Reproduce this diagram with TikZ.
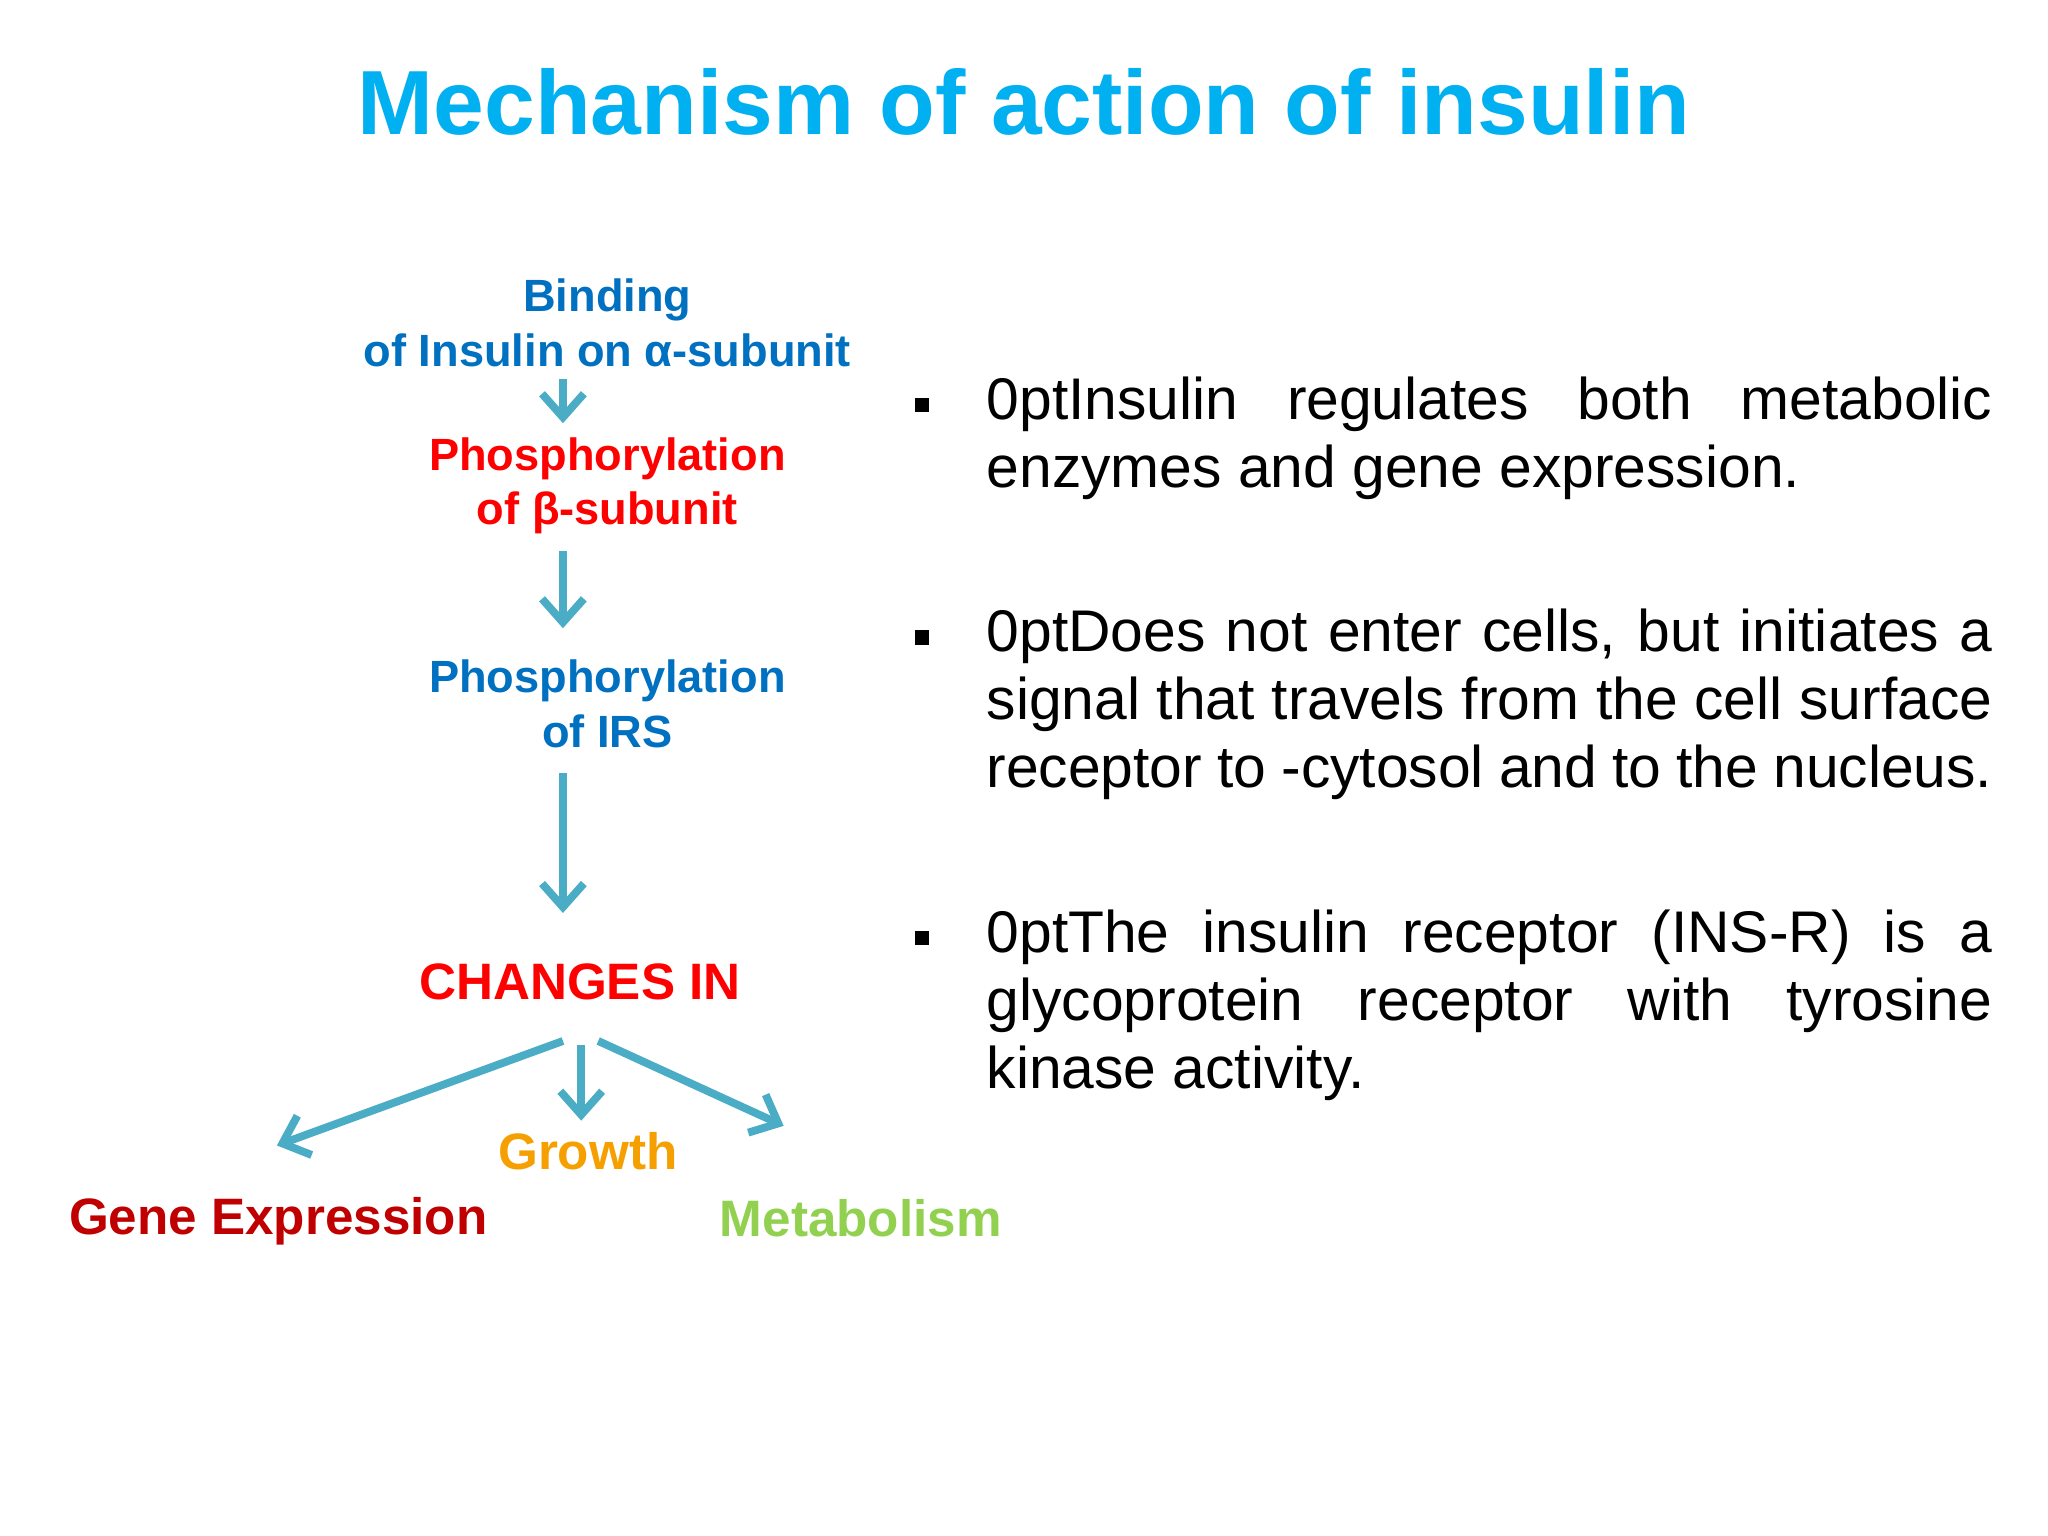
\documentclass[tikz,border=0pt]{standalone}
\usepackage{fontspec}
\setmainfont{Liberation Sans}
\usetikzlibrary{arrows.meta}
\definecolor{ttl}{RGB}{0,176,240}
\definecolor{bl}{RGB}{0,112,192}
\definecolor{rd}{RGB}{255,0,0}
\definecolor{drd}{RGB}{192,0,0}
\definecolor{orn}{RGB}{245,160,0}
\definecolor{grn}{RGB}{146,208,80}
\definecolor{arr}{RGB}{75,172,198}
\tikzset{
 lab/.style={font=\bfseries\fontsize{17.3}{21}\selectfont,align=center,inner sep=0pt},
 big/.style={font=\bfseries\fontsize{19.6}{23}\selectfont},
 flow/.style={draw=arr,line width=3pt,-{Straight Barb[length=9pt,width=16pt,line width=3pt]}},
 para/.style={anchor=north west,inner sep=0pt,text width=385pt,align=justify,font=\fontsize{22.5}{26}\selectfont\hyphenpenalty=10000},
 sq/.style={fill=black,minimum size=5.5pt,inner sep=0pt}
}
\begin{document}
\begin{tikzpicture}[x=0.5pt,y=-0.5pt]
\useasboundingbox[fill=white] (0,0) rectangle (1568,1176);
\node[font=\bfseries\fontsize{34.9}{40}\selectfont,text=ttl] (title) at (784,78) {Mechanism of action of insulin};
\node[lab,text=bl] (bind) at (465,247) {Binding\\of Insulin on α-subunit};
\node[lab,text=rd] (pb) at (465,372) {Phosphorylation\\of β-subunit};
\node[lab,text=bl] (pi) at (465,539) {Phosphorylation\\of IRS};
\node[lab,big,text=rd] (ch) at (444,752) {CHANGES IN};
\node[lab,big,text=orn] (gr) at (450,881) {Growth};
\node[lab,big,text=drd] (ge) at (213,935) {Gene Expression};
\node[lab,big,text=grn] (me) at (659,933) {Metabolism};
\coordinate (a1) at (431,290); \coordinate (a2) at (431,324);
\coordinate (b1) at (431,422); \coordinate (b2) at (431,481);
\coordinate (c1) at (431,592); \coordinate (c2) at (431,699);
\coordinate (d0) at (431,797); \coordinate (d1) at (212,877);
\coordinate (e0) at (445,800); \coordinate (e1) at (445,858);
\coordinate (f0) at (458,797); \coordinate (f1) at (600,862);
\draw[flow] (a1) -- (a2);
\draw[flow] (b1) -- (b2);
\draw[flow] (c1) -- (c2);
\draw[flow] (d0) -- (d1);
\draw[flow] (e0) -- (e1);
\draw[flow] (f0) -- (f1);
\node[sq] (s1) at (706,310) {};
\node[sq] (s2) at (706,488) {};
\node[sq] (s3) at (706,718) {};
\node[para] (p1) at (755,288) {Insulin regulates both metabolic\linebreak enzymes and gene expression.};
\node[para] (p2) at (755,466) {Does not enter cells, but initiates a\linebreak signal that travels from the cell surface\linebreak receptor to -cytosol and to the nucleus.};
\node[para] (p3) at (755,696) {The insulin receptor (INS-R) is a\linebreak glycoprotein receptor with tyrosine\linebreak kinase activity.};
\end{tikzpicture}
\end{document}
